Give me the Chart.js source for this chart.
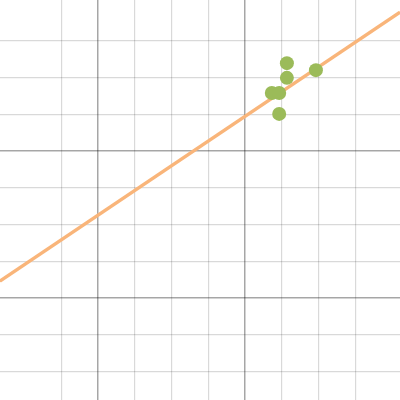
<!DOCTYPE html>
<html><head><style>html,body{margin:0;padding:0;background:#fff}</style>
<script src="https://cdn.jsdelivr.net/npm/chart.js@4"></script></head>
<body><div style="width:400px;height:400px"><canvas id="c"></canvas></div>
<script>
const pointsX = [0.73, 0.93, 1.14, 1.14, 1.93, 0.93];
const pointsY = [1.58, 1.58, 2.39, 1.99, 2.20, 1.01];
const lineX = [-6.67, 4.22];
const lineY = [-3.54, 3.78];
const xRange = [-6.667, 4.218];
const yRange = [-6.776, 4.109];
function gridColor(ctx){
  const v = ctx.tick && ctx.tick.value;
  if (!Number.isInteger(v)) return 'rgba(0,0,0,0)';
  return v % 4 === 0 ? 'rgba(0,0,0,0.35)' : 'rgba(0,0,0,0.15)';
}
function gridWidth(ctx){
  const v = ctx.tick && ctx.tick.value;
  return Number.isInteger(v) && v % 4 === 0 ? 1.5 : 1.2;
}
const axis = (r) => ({type:'linear',min:r[0],max:r[1],display:true,
  ticks:{display:false,stepSize:1,padding:0},border:{display:false},
  grid:{color:gridColor,lineWidth:gridWidth,drawTicks:false,tickLength:0},
  afterFit:(s)=>{ if(s.isHorizontal()) s.height=0; else s.width=0; s.paddingLeft=s.paddingRight=s.paddingTop=s.paddingBottom=0; }});
new Chart(document.getElementById('c'),{
  data:{datasets:[
    {type:'line',data:lineX.map((x,i)=>({x,y:lineY[i]})),borderColor:'#f9b57a',borderWidth:3.5,pointRadius:0,order:2},
    {type:'scatter',data:pointsX.map((x,i)=>({x,y:pointsY[i]})),backgroundColor:'#9bbb59',borderWidth:0,pointRadius:7,order:1}
  ]},
  options:{responsive:true,maintainAspectRatio:false,animation:false,
    layout:{padding:0,autoPadding:false},
    plugins:{legend:{display:false},tooltip:{enabled:false}},
    scales:{x:axis(xRange),y:axis(yRange)}}
});
</script></body></html>
